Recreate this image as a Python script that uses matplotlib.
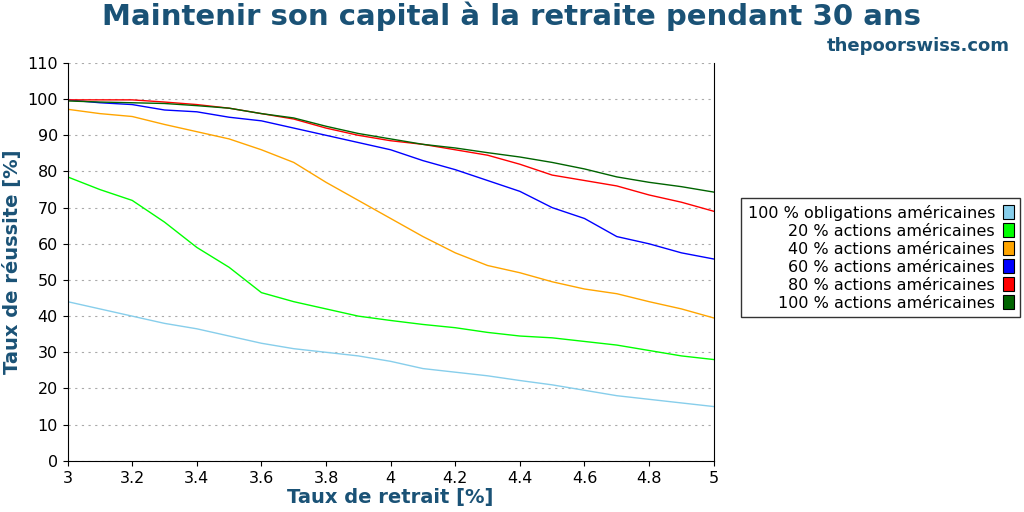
import matplotlib
matplotlib.use("Agg")
import matplotlib.pyplot as plt
import numpy as np

x = np.round(np.arange(3.0, 5.01, 0.1), 1)

y_bonds = [44, 42, 40, 38, 36.5, 34.5, 32.5, 31, 30, 29, 27.5, 25.5, 24.5, 23.5, 22.2, 21, 19.5, 18, 17, 16, 15]
y_20 = [78.5, 75, 72, 66, 59, 53.5, 46.5, 44, 42, 40, 38.8, 37.7, 36.8, 35.5, 34.5, 34, 33, 32, 30.5, 29, 28]
y_40 = [97.2, 96, 95.2, 93, 91, 89, 86, 82.5, 77, 72, 67, 62, 57.5, 54, 52, 49.5, 47.5, 46.2, 44, 42, 39.5]
y_60 = [99.8, 99, 98.5, 97, 96.5, 95, 94, 92, 90, 88, 86, 83, 80.5, 77.5, 74.5, 70, 67, 62, 60, 57.5, 55.8]
y_80 = [99.8, 99.8, 99.8, 99.2, 98.5, 97.5, 96, 94.5, 92, 90, 88.5, 87.5, 86, 84.5, 82, 79, 77.5, 76, 73.5, 71.5, 69]
y_100 = [99.5, 99.2, 99, 98.8, 98.2, 97.5, 96, 94.8, 92.5, 90.5, 89, 87.5, 86.5, 85.2, 84, 82.5, 80.7, 78.5, 77, 75.8, 74.3]

series = [
    ("100 % obligations américaines", y_bonds, "#87ceeb"),
    ("20 % actions américaines", y_20, "#00ff00"),
    ("40 % actions américaines", y_40, "#ffa500"),
    ("60 % actions américaines", y_60, "#0000ff"),
    ("80 % actions américaines", y_80, "#ff0000"),
    ("100 % actions américaines", y_100, "#006400"),
]

blue = "#1a5276"

fig = plt.figure(figsize=(10.24, 5.12), dpi=100)
ax = fig.add_axes([0.066, 0.1, 0.631, 0.777])

handles = []
for label, ys, c in series:
    ax.plot(x, ys, color=c, linewidth=1)
    handles.append(plt.Rectangle((0, 0), 1, 1, facecolor=c, edgecolor="black", linewidth=0.8, label=label))

ax.set_xlim(3, 5)
ax.set_ylim(0, 110)
ax.set_xticks([3, 3.2, 3.4, 3.6, 3.8, 4, 4.2, 4.4, 4.6, 4.8, 5])
ax.set_xticklabels(["3", "3.2", "3.4", "3.6", "3.8", "4", "4.2", "4.4", "4.6", "4.8", "5"])
ax.set_yticks(range(0, 111, 10))
ax.tick_params(labelsize=11.5)
ax.yaxis.grid(True, linestyle=(0, (2, 4)), color="#aaaaaa", linewidth=0.8)
ax.spines["top"].set_visible(False)

ax.set_xlabel("Taux de retrait [%]", fontsize=14, fontweight="bold", color=blue, labelpad=2)
ax.set_ylabel("Taux de réussite [%]", fontsize=14, fontweight="bold", color=blue)

fig.text(0.5, 0.968, "Maintenir son capital à la retraite pendant 30 ans", ha="center", va="center",
         fontsize=21, fontweight="bold", color=blue)
fig.text(0.986, 0.91, "thepoorswiss.com", ha="right", va="center", fontsize=13, fontweight="bold", color=blue)

fig.legend(handles=handles, loc="center left", bbox_to_anchor=(0.716, 0.497), markerfirst=False,
           fontsize=11.5, frameon=True, fancybox=False, edgecolor="black", handlelength=0.7,
           handleheight=1.0, labelspacing=0.15, borderpad=0.4, handletextpad=0.5)

fig.savefig("out.png", dpi=100)
